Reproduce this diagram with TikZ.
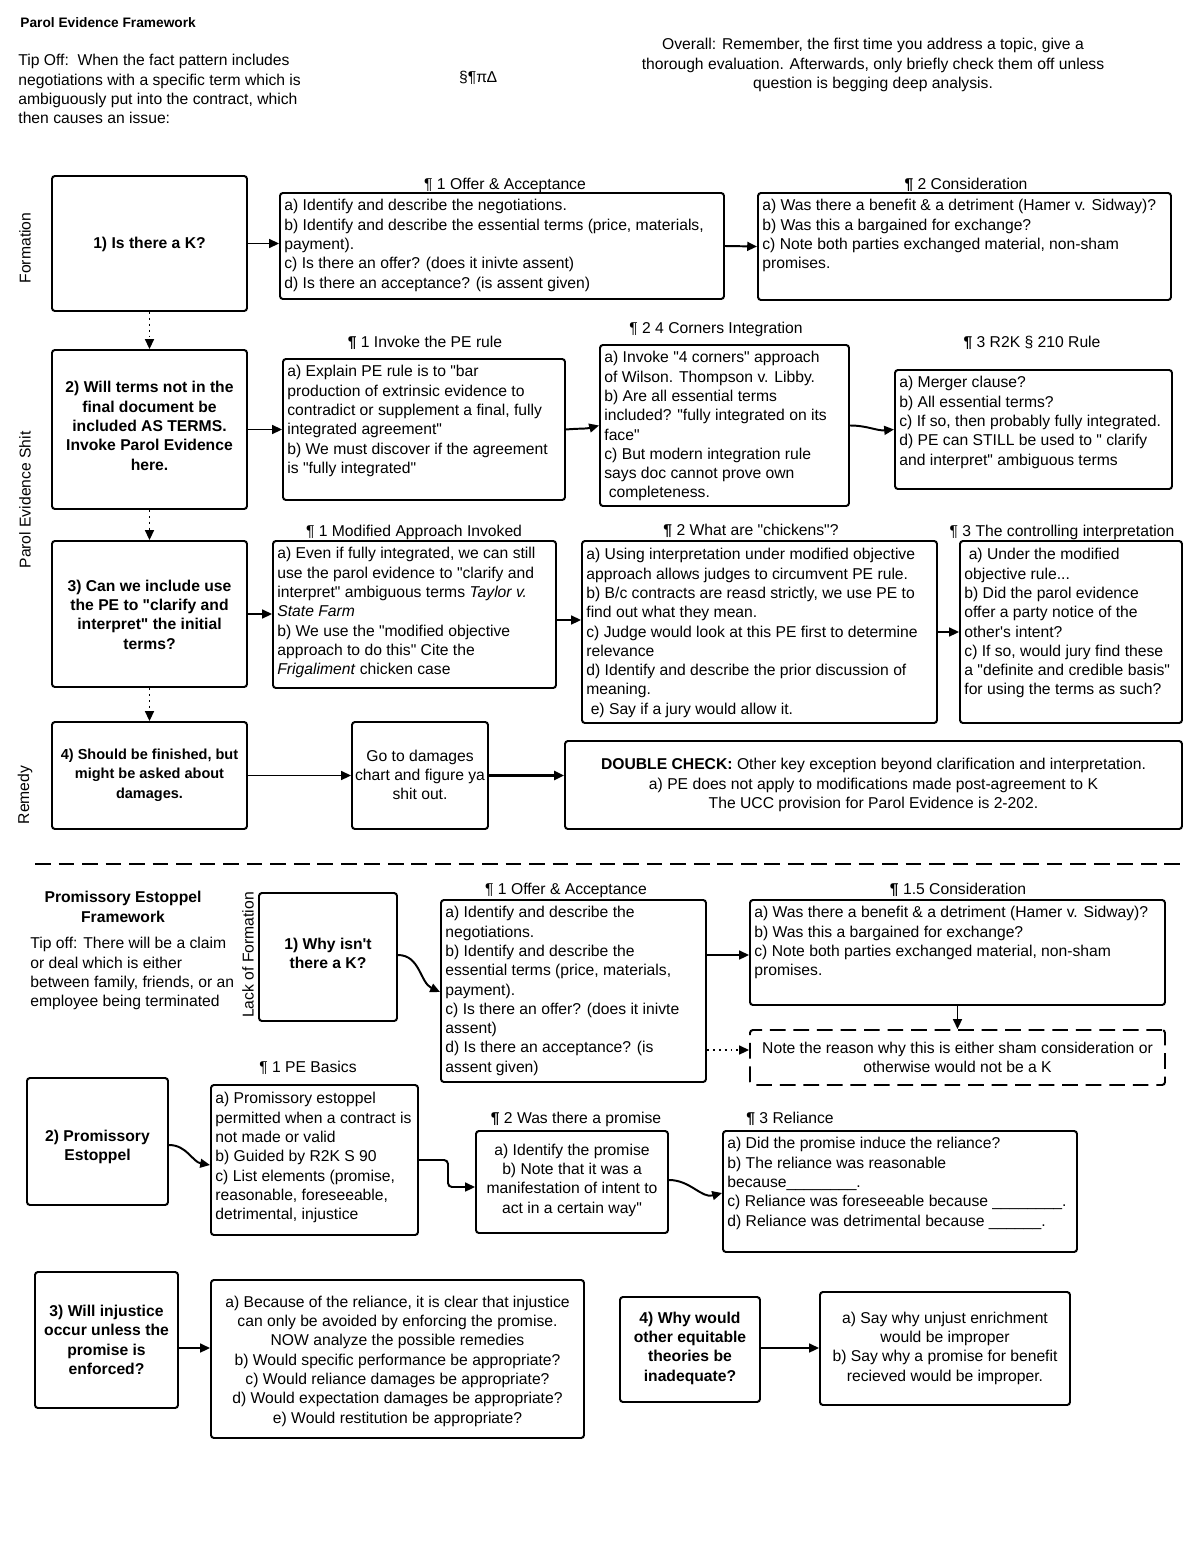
\documentclass[tikz,border=0pt]{standalone}
\usepackage{fontspec}
\setmainfont{Liberation Sans}
\newfontfamily\lsf{Liberation Sans}
\usetikzlibrary{fit,arrows.meta}
\tikzset{
  bx/.style={draw, line width=1pt, rounded corners=1.5pt, inner sep=0pt},
  dbx/.style={bx, dash pattern=on 8pt off 4pt},
  txt/.style={font=\lsf\fontsize{8}{9.85}\selectfont, align=left, inner sep=0pt, anchor=north west},
  ctr/.style={font=\lsf\fontsize{8}{9.85}\selectfont, align=center, inner sep=0pt},
  bld/.style={font=\lsf\fontsize{8}{9.85}\selectfont\bfseries, align=center, inner sep=0pt},
  ttl/.style={font=\lsf\fontsize{8}{9.85}\selectfont, inner sep=0pt},
  arr/.style={-{Triangle[length=5pt,width=4.5pt]}, line width=1pt},
  darr/.style={arr, dotted},
}
\begin{document}
\begin{tikzpicture}[x=0.51pt,y=-0.51pt]
\fill[white] (0,0) rectangle (1200,1553);
\useasboundingbox (0,0) rectangle (1200,1553);

% ---------- header ----------
\node[font=\lsf\fontsize{7}{9}\selectfont\bfseries, anchor=base west, inner sep=0pt] (h1) at (20,28) {Parol Evidence Framework};
\node[txt] (h2) at (18,54) {Tip Off:\ \ When the fact pattern includes\\negotiations with a specific term which is\\ambiguously put into the contract, which\\then causes an issue:};
\node[ttl] (h3) at (478,78) {§¶π∆};
\node[ctr] (h4) at (873,65) {Overall: Remember, the first time you address a topic, give a\\thorough evaluation. Afterwards, only briefly check them off unless\\question is begging deep analysis.};

% ---------- side labels ----------
\node[ttl, rotate=90] (s1) at (25,248) {Formation};
\node[ttl, rotate=90] (s2) at (25,500) {Parol Evidence Shit};
\node[ttl, rotate=90] (s3) at (25,795) {Remedy};
\node[ttl, rotate=90] (s4) at (248,955) {Lack of Formation};

% ---------- Formation row ----------
\node[bx, fit={(52,176) (247,311)}] (k1) {};
\node[bld] (k1t) at (149.5,244) {1) Is there a K?};
\node[ttl] (t1) at (505,185) {¶ 1 Offer \& Acceptance};
\node[bx, fit={(280,193) (724,299)}] (oa) {};
\node[txt] (oat) at (284,199) {a) Identify and describe the negotiations.\\b) Identify and describe the essential terms (price, materials,\\payment).\\c) Is there an offer? (does it inivte assent)\\d) Is there an acceptance? (is assent given)};
\node[ttl] (t2) at (966,185) {\textbf{¶} 2 Consideration};
\node[bx, fit={(758,193) (1171,300)}] (cons) {};
\node[txt] (const) at (762,199) {a) Was there a benefit \& a detriment (Hamer v. Sidway)?\\b) Was this a bargained for exchange?\\c) Note both parties exchanged material, non-sham\\promises.};

% ---------- Parol evidence row ----------
\node[bx, fit={(52,350) (247,509)}] (k2) {};
\node[bld] (k2t) at (149.5,426) {2) Will terms not in the\\final document be\\included AS TERMS.\\Invoke Parol Evidence\\here.};
\node[ttl] (t3) at (425,343) {\textbf{¶} 1 Invoke the PE rule};
\node[bx, fit={(283,359) (565,500)}] (pe1) {};
\node[txt] (pe1t) at (287,365) {a) Explain PE rule is to "bar\\production of extrinsic evidence to\\contradict or supplement a final, fully\\integrated agreement"\\b) We must discover if the agreement\\is "fully integrated"};
\node[ttl] (t4) at (716,329) {¶ 2 4 Corners Integration};
\node[bx, fit={(600,345) (849,506)}] (pe2) {};
\node[txt] (pe2t) at (604,351) {a) Invoke "4 corners" approach\\of Wilson. Thompson v. Libby.\\b) Are all essential terms\\included? "fully integrated on its\\face"\\c) But modern integration rule\\says doc cannot prove own\\\ completeness.};
\node[ttl] (t5) at (1032,343) {\textbf{¶} 3 R2K § 210 Rule};
\node[bx, fit={(895,370) (1172,489)}] (pe3) {};
\node[txt] (pe3t) at (899,376) {a) Merger clause?\\b) All essential terms?\\c) If so, then probably fully integrated.\\d) PE can STILL be used to " clarify\\and interpret" ambiguous terms};

% ---------- interpretation row ----------
\node[bx, fit={(52,541) (247,687)}] (k3) {};
\node[bld] (k3t) at (149.5,614.5) {3) Can we include use\\the PE to "clarify and\\interpret" the initial\\terms?};
\node[ttl] (t6) at (414,532) {¶ 1 Modified Approach Invoked};
\node[bx, fit={(273,541) (556,688)}] (ma) {};
\node[txt] (mat) at (277,547) {a) Even if fully integrated, we can still\\use the parol evidence to "clarify and\\interpret" ambiguous terms \textit{Taylor v.}\\\textit{State Farm}\\b) We use the "modified objective\\approach to do this" Cite the\\\textit{Frigaliment} chicken case};
\node[ttl] (t7) at (751,531) {\textbf{¶} 2 What are "chickens"?};
\node[bx, fit={(582,541) (937,723)}] (ch) {};
\node[txt] (cht) at (586,548) {a) Using interpretation under modified objective\\approach allows judges to circumvent PE rule.\\b) B/c contracts are reasd strictly, we use PE to\\find out what they mean.\\c) Judge would look at this PE first to determine\\relevance\\d) Identify and describe the prior discussion of\\meaning.\\\ e) Say if a jury would allow it.};
\node[ttl] (t8) at (1062,532) {¶ 3 The controlling interpretation};
\node[bx, fit={(960,541) (1182,723)}] (ci) {};
\node[txt] (cit) at (964,548) {\ a) Under the modified\\objective rule...\\b) Did the parol evidence\\offer a party notice of the\\other's intent?\\c) If so, would jury find these\\a "definite and credible basis"\\for using the terms as such?};

% ---------- Remedy row ----------
\node[bx, fit={(52,722) (247,829)}] (k4) {};
\node[bld, font=\lsf\fontsize{7.4}{9.85}\selectfont\bfseries] (k4t) at (149.5,775) {4) Should be finished, but\\might be asked about\\damages.};
\node[bx, fit={(352,722) (488,829)}] (gd) {};
\node[ctr] (gdt) at (420,775) {Go to damages\\chart and figure ya\\shit out.};
\node[bx, fit={(565,741) (1182,829)}] (dc) {};
\node[ctr] (dct) at (873.5,785) {\textbf{DOUBLE CHECK:} Other key exception beyond clarification and interpretation.\\a) PE does not apply to modifications made post-agreement to K\\The UCC provision for Parol Evidence is 2-202.};

% ---------- connectors, upper part ----------
\draw[arr] (k1.east) -- (oa.west |- k1.east);
\draw[arr] (oa.east) -- (cons.west);
\draw[darr] (k1.south) -- (k2.north);
\draw[arr] (k2.east) -- (pe1.west |- k2.east);
\draw[arr] (pe1.east) to[out=5,in=195] (pe2.west);
\draw[arr] (pe2.east) to[out=0,in=185] (pe3.west);
\draw[darr] (k2.south) -- (k3.north);
\draw[arr] (k3.east) -- (ma.west |- k3.east);
\coordinate (mach) at (560,620);
\draw[arr] (ma.east |- mach) -- (ch.west |- mach);
\draw[arr] (ch.east) -- (ci.west);
\draw[darr] (k3.south) -- (k4.north);
\draw[arr] (k4.east) -- (gd.west);
\draw[-{Triangle[length=5pt,width=4.5pt]}, line width=2pt] (gd.east) -- (dc.west |- gd.east);

% ---------- separator ----------
\coordinate (sepa) at (35,864);
\coordinate (sepb) at (1185,864);
\draw[line width=1pt, dash pattern=on 8pt off 4pt] (sepa) -- (sepb);

% ---------- Promissory Estoppel ----------
\node[bld] (p1) at (123,907) {Promissory Estoppel\\Framework};
\node[txt] (p2) at (30,937) {Tip off: There will be a claim\\or deal which is either\\between family, friends, or an\\employee being terminated};

\node[bx, fit={(259,893) (397,1021)}] (w1) {};
\node[bld] (w1t) at (328,953.5) {1) Why isn't\\there a K?};
\node[ttl] (t9) at (566,890) {¶ 1 Offer \& Acceptance};
\node[bx, fit={(441,900) (706,1082)}] (oa2) {};
\node[txt] (oa2t) at (445,906) {a) Identify and describe the\\negotiations.\\b) Identify and describe the\\essential terms (price, materials,\\payment).\\c) Is there an offer? (does it inivte\\assent)\\d) Is there an acceptance? (is\\assent given)};
\node[ttl] (t10) at (958,890) {\textbf{¶} 1.5 Consideration};
\node[bx, fit={(750,900) (1165,1005)}] (c15) {};
\node[txt] (c15t) at (754,906) {a) Was there a benefit \& a detriment (Hamer v. Sidway)?\\b) Was this a bargained for exchange?\\c) Note both parties exchanged material, non-sham\\promises.};
\node[dbx, fit={(750,1030) (1165,1085)}] (nt) {};
\node[ctr] (ntt) at (957.5,1057.5) {Note the reason why this is either sham consideration or\\otherwise would not be a K};

\node[ttl] (t11) at (308,1068) {¶ 1 PE Basics};
\node[bx, fit={(27,1078) (168,1205)}] (pe) {};
\node[bld] (pet) at (97.5,1147) {2) Promissory\\Estoppel};
\node[bx, fit={(211,1085) (418,1235)}] (pb) {};
\node[txt] (pbt) at (215,1092) {a) Promissory estoppel\\permitted when a contract is\\not made or valid\\b) Guided by R2K S 90\\c) List elements (promise,\\reasonable, foreseeable,\\detrimental, injustice};
\node[ttl] (t12) at (576,1119) {\textbf{¶} 2 Was there a promise};
\node[bx, fit={(476,1131) (668,1233)}] (wp) {};
\node[ctr] (wpt) at (572,1180) {a) Identify the promise\\b) Note that it was a\\manifestation of intent to\\act in a certain way"};
\node[ttl, anchor=west] (t13) at (746,1119) {\textbf{¶} 3 Reliance};
\node[bx, fit={(723,1131) (1077,1252)}] (re) {};
\node[txt] (ret) at (727,1137) {a) Did the promise induce the reliance?\\b) The reliance was reasonable\\because\_\_\_\_\_\_\_\_.\\c) Reliance was foreseeable because \_\_\_\_\_\_\_\_.\\d) Reliance was detrimental because \_\_\_\_\_\_.};

\node[bx, fit={(35,1272) (178,1408)}] (w3) {};
\node[bld] (w3t) at (106.5,1340) {3) Will injustice\\occur unless the\\promise is\\enforced?};
\node[bx, fit={(211,1280) (584,1438)}] (rm) {};
\node[ctr] (rmt) at (397.5,1361) {a) Because of the reliance, it is clear that injustice\\can only be avoided by enforcing the promise.\\NOW analyze the possible remedies\\b) Would specific performance be appropriate?\\c) Would reliance damages be appropriate?\\d) Would expectation damages be appropriate?\\e) Would restitution be appropriate?};
\node[bx, fit={(620,1297) (760,1402)}] (w4) {};
\node[bld] (w4t) at (690,1348) {4) Why would\\other equitable\\theories be\\inadequate?};
\node[bx, fit={(820,1292) (1070,1405)}] (ue) {};
\node[ctr] (uet) at (945,1348) {a) Say why unjust enrichment\\would be improper\\b) Say why a promise for benefit\\recieved would be improper.};

% ---------- connectors, lower part ----------
\coordinate (w1o) at (398,955);
\draw[arr] (w1.east |- w1o) to[out=0,in=155] (oa2.west |- 0,992);
\coordinate (oac) at (710,955);
\draw[arr] (oa2.east |- oac) -- (c15.west |- oac);
\draw[arr] (c15.south) -- (nt.north);
\coordinate (oan) at (710,1050);
\draw[darr] (oa2.east |- oan) -- (nt.west |- oan);
\coordinate (peo) at (170,1145);
\draw[arr] (pe.east |- peo) to[out=0,in=170] (pb.west |- 0,1165);
\coordinate (pbo) at (420,1160);
\coordinate (pbm) at (448,1187);
\draw[arr, rounded corners=2pt] (pb.east |- pbo) -| (pbm) -- (wp.west |- pbm);
\coordinate (wpo) at (670,1180);
\draw[arr] (wp.east |- wpo) to[out=0,in=195] (re.west |- 0,1193);
\coordinate (w3o) at (180,1348);
\draw[arr] (w3.east |- w3o) -- (rm.west |- w3o);
\draw[arr] (w4.east |- 0,1348) -- (ue.west |- 0,1348);
\end{tikzpicture}
\end{document}
